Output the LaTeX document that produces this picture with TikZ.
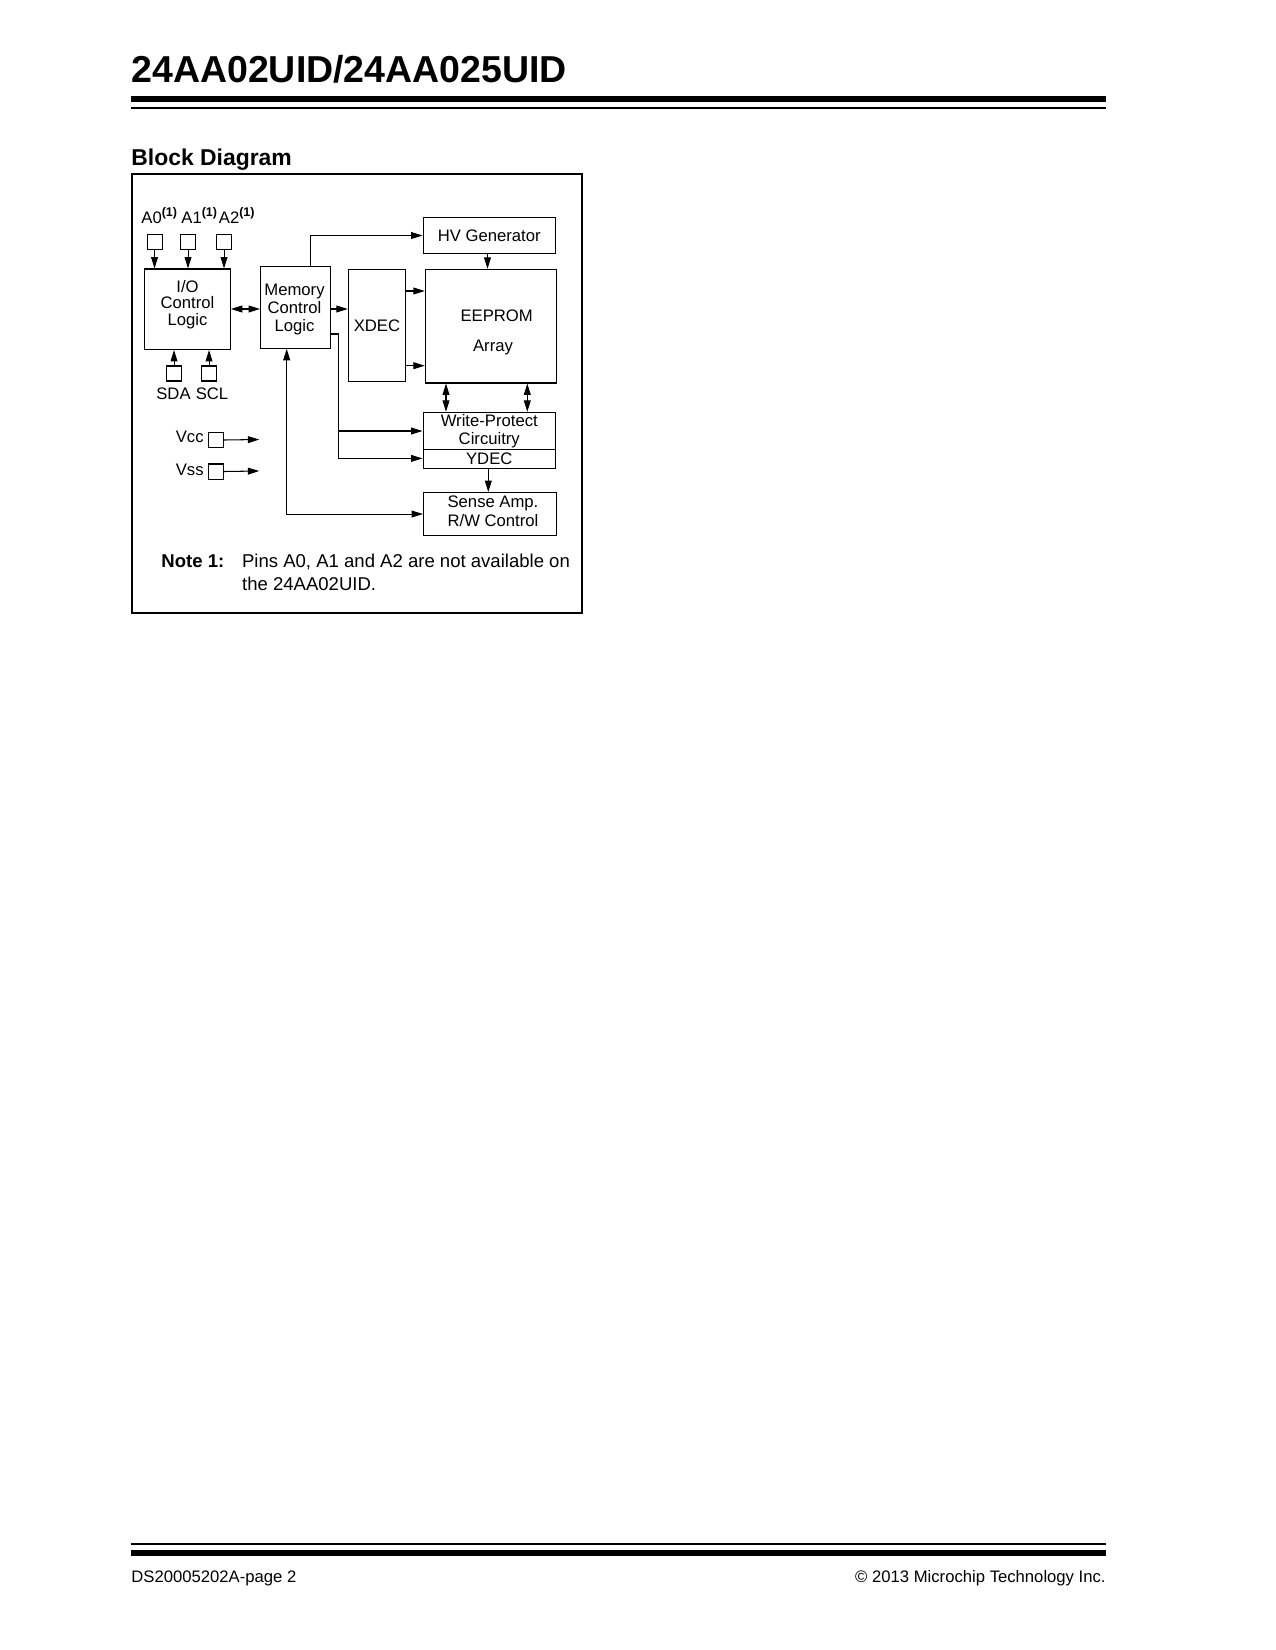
\documentclass[tikz,border=0pt]{standalone}
\usepackage{fontspec}
\setmainfont{Liberation Sans}
\usetikzlibrary{arrows.meta}
\newcommand{\onesup}{\raisebox{3.4pt}{\fontsize{6}{6}\selectfont\bfseries(1)}}
\newcommand{\dfont}{\fontsize{8}{8.3}\selectfont}
\begin{document}
\begin{tikzpicture}[x=0.48pt,y=-0.48pt,
  >={Triangle[length=5.5pt,width=3.3pt]},
  bx/.style 2 args={draw,line width=0.5pt,inner sep=0pt,anchor=north west,
     minimum width=#1*0.48pt,minimum height=#2*0.48pt,align=center,font=\dfont},
  pin/.style={draw,line width=0.5pt,inner sep=0pt,anchor=north west,
     minimum width=7.2pt,minimum height=7.2pt},
  lbl/.style={inner sep=0pt,font=\dfont,align=center},
  con/.style={line width=0.5pt},
  rulethick/.style={line width=2.88pt},
  rulethin/.style={line width=1pt}]
\useasboundingbox (0,0) rectangle (1275,1650);
% header
\node[inner sep=0pt,anchor=base west,font=\fontsize{18}{20}\selectfont\bfseries] (title) at (131,83) {24AA02UID/24AA025UID};
\draw[rulethick] (131,99.5) -- (1106,99.5);
\draw[rulethin] (131,108) -- (1106,108);
\node[inner sep=0pt,anchor=base west,font=\fontsize{11}{13}\selectfont\bfseries] (bd) at (131,166) {Block Diagram};
% frame
\draw[line width=0.5pt] (132,174) rectangle (582,613);
% blocks
\node[bx={85.4}{80.5}] (io) at (144.4,268.5) {};
\node[lbl,font=\fontsize{8}{7.9}\selectfont] (iot) at (187.5,304.5) {I/O\\Control\\Logic};
\node[bx={70}{82.2}] (mcl) at (260,265.6) {};
\node[lbl,font=\fontsize{8}{8.7}\selectfont] (mclt) at (294.5,309.5) {Memory\\Control\\Logic};
\node[bx={57.2}{112.5}] (xdec) at (347.8,268.8) {XDEC};
\node[bx={132.5}{36}] (hv) at (422.5,217) {HV Generator};
\node[bx={131.2}{113.7}] (eep) at (424.8,268.8) {};
\node[lbl] (eept) at (496.7,316) {EEPROM};
\node[lbl] (eepa) at (493,347.5) {Array};
\node[bx={132.5}{37.5}] (wp) at (422.5,411.8) {Write-Protect\\Circuitry};
\node[bx={132.5}{18.2}] (ydec) at (422.5,449.3) {YDEC};
\node[bx={133}{43}] (sense) at (423,492) {};
\node[lbl,font=\fontsize{8}{9.1}\selectfont] (senset) at (493,511) {Sense Amp.\\R/W Control};
% pins
\node[pin] (pa0) at (146.5,234) {};
\node[pin] (pa1) at (180,234) {};
\node[pin] (pa2) at (216,234) {};
\node[pin] (psda) at (166,365.5) {};
\node[pin] (pscl) at (201,365.5) {};
\node[pin] (pvcc) at (207.5,432) {};
\node[pin] (pvss) at (207.5,463.5) {};
% pin labels
\node[lbl,anchor=base west] (la0) at (141,224) {A0\onesup};
\node[lbl,anchor=base west] (la1) at (181,224) {A1\onesup};
\node[lbl,anchor=base west] (la2) at (218.5,224) {A2\onesup};
\node[lbl,anchor=base] (lsda) at (173.5,400) {SDA};
\node[lbl,anchor=base] (lscl) at (212,400) {SCL};
\node[lbl,anchor=base east] (lvcc) at (204,443) {Vcc};
\node[lbl,anchor=base east] (lvss) at (204,476) {Vss};
% pin connectors
\draw[con,->] (pa0.south) -- (io.north -| pa0.south);
\draw[con,->] (pa1.south) -- (io.north -| pa1.south);
\draw[con,->] (pa2.south) -- (io.north -| pa2.south);
\draw[con,->] (psda.north) -- (io.south -| psda.north);
\draw[con,->] (pscl.north) -- (io.south -| pscl.north);
\coordinate (vccend) at (259.3,439.5);
\coordinate (vssend) at (259.3,471);
\draw[con,->] (pvcc.east) -- (vccend);
\draw[con,->] (pvss.east) -- (vssend);
% block connectors
\draw[con,<->] (io.east |- 0,309) -- (mcl.west |- 0,309);
\draw[con,->] (mcl.east |- 0,309) -- (xdec.west |- 0,309);
\draw[con,->] (mcl.north -| 310.7,0) |- (hv.west);
\draw[con,->] (hv.south -| 487.5,0) -- (eep.north -| 487.5,0);
\draw[con,->] (xdec.east |- 0,291) -- (eep.west |- 0,291);
\draw[con,->] (xdec.east |- 0,365.7) -- (eep.west |- 0,365.7);
\coordinate (jn) at (338.3,334);
\coordinate (jwp) at (338.3,431);
\coordinate (jyd) at (338.3,458.4);
\draw[con] (mcl.east |- jn) -- (jn) -- (jyd);
\draw[con,->] (jwp) -- (wp.west |- jwp);
\draw[con,->] (jyd) -- (ydec.west |- jyd);
\draw[con,<->] (eep.south -| 446,0) -- (wp.north -| 446,0);
\draw[con,<->] (eep.south -| 527.3,0) -- (wp.north -| 527.3,0);
\draw[con,->] (ydec.south -| 488.3,0) -- (sense.north -| 488.3,0);
\draw[con,<->] (mcl.south -| 286.7,0) |- (sense.west);
% note
\node[inner sep=0pt,anchor=base west,font=\fontsize{8.9}{11}\selectfont\bfseries] (n1) at (161,567) {Note 1:};
\node[inner sep=0pt,anchor=base west,font=\fontsize{8.9}{11}\selectfont] (n2) at (241.7,567) {Pins A0, A1 and A2 are not available on};
\node[inner sep=0pt,anchor=base west,font=\fontsize{8.9}{11}\selectfont] (n3) at (241.7,590) {the 24AA02UID.};
% footer
\draw[rulethin] (131,1544.3) -- (1106,1544.3);
\draw[rulethick] (131,1553) -- (1106,1553);
\node[inner sep=0pt,anchor=base west,font=\fontsize{8}{10}\selectfont] (fl) at (131,1582) {DS20005202A-page 2};
\node[inner sep=0pt,anchor=base east,font=\fontsize{8}{10}\selectfont] (fr) at (1106,1582) {© 2013 Microchip Technology Inc.};
\end{tikzpicture}
\end{document}
